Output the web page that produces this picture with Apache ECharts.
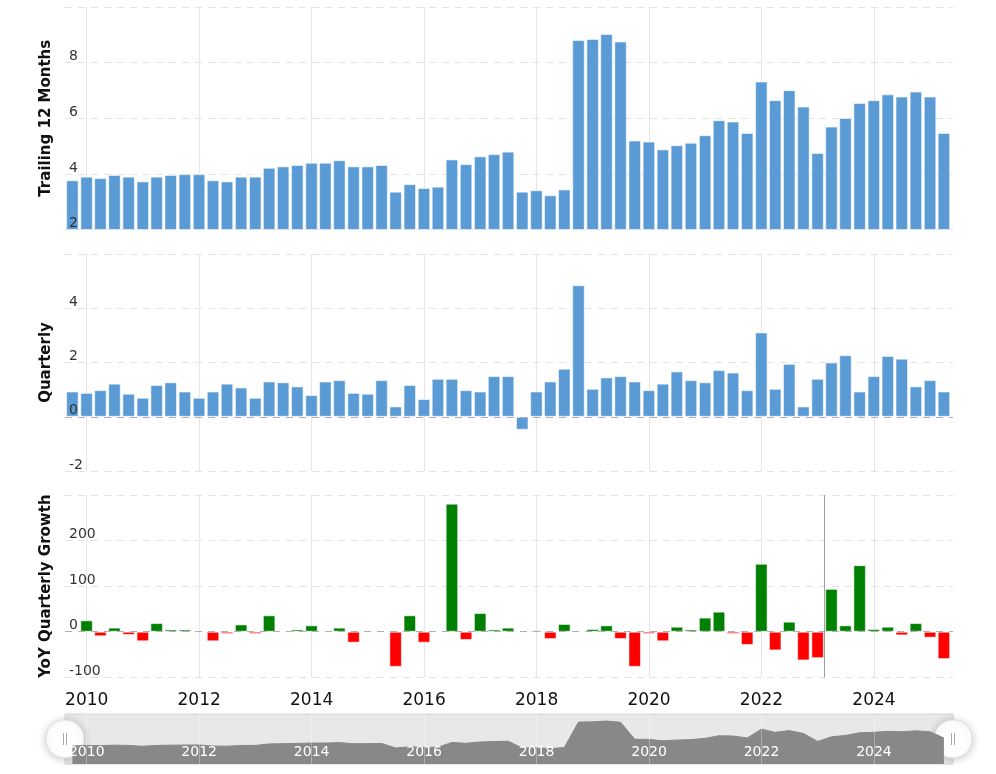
<!DOCTYPE html>
<html><head><meta charset="utf-8">
<script src="https://cdn.jsdelivr.net/npm/echarts@6/dist/echarts.min.js"></script>
<style>
html,body{margin:0;padding:0;background:#fff;}
#chart{position:absolute;left:0;top:0;width:996px;height:774px;}
#edge{position:absolute;left:1px;top:0;width:1px;height:774px;background:#e3e3e3;}
</style></head><body>
<div id="edge"></div>
<div id="chart"></div>
<script>
// ---- data ----
const quarters = [
 '2009-09-30','2009-12-31',
 '2010-03-31','2010-06-30','2010-09-30','2010-12-31',
 '2011-03-31','2011-06-30','2011-09-30','2011-12-31',
 '2012-03-31','2012-06-30','2012-09-30','2012-12-31',
 '2013-03-31','2013-06-30','2013-09-30','2013-12-31',
 '2014-03-31','2014-06-30','2014-09-30','2014-12-31',
 '2015-03-31','2015-06-30','2015-09-30','2015-12-31',
 '2016-03-31','2016-06-30','2016-09-30','2016-12-31',
 '2017-03-31','2017-06-30','2017-09-30','2017-12-31',
 '2018-03-31','2018-06-30','2018-09-30','2018-12-31',
 '2019-03-31','2019-06-30','2019-09-30','2019-12-31',
 '2020-03-31','2020-06-30','2020-09-30','2020-12-31',
 '2021-03-31','2021-06-30','2021-09-30','2021-12-31',
 '2022-03-31','2022-06-30','2022-09-30','2022-12-31',
 '2023-03-31','2023-06-30','2023-09-30','2023-12-31',
 '2024-03-31','2024-06-30','2024-09-30','2024-12-31',
 '2025-03-31'
];
const ttmValues = [
 3.77,3.90,
 3.85,3.96,3.90,3.73,
 3.90,3.96,3.99,3.99,
 3.77,3.73,3.90,3.90,
 4.22,4.27,4.32,4.40,
 4.40,4.49,4.27,4.27,
 4.32,3.36,3.63,3.49,
 3.54,4.52,4.35,4.63,
 4.71,4.80,3.36,3.41,
 3.23,3.44,8.81,8.85,
 9.03,8.76,5.20,5.16,
 4.88,5.03,5.12,5.39,
 5.93,5.88,5.47,7.32,
 6.65,7.01,6.42,4.75,
 5.70,6.01,6.55,6.65,
 6.86,6.78,6.96,6.78,
 5.47
];
const quarterlyValues = [
 0.93,0.88,
 0.98,1.22,0.85,0.70,
 1.17,1.27,0.93,0.70,
 0.93,1.22,1.08,0.70,
 1.30,1.27,1.12,0.80,
 1.30,1.35,0.88,0.85,
 1.35,0.38,1.17,0.65,
 1.40,1.40,0.98,0.93,
 1.50,1.50,-0.48,0.93,
 1.30,1.77,4.85,1.03,
 1.45,1.50,1.30,0.98,
 1.22,1.67,1.35,1.27,
 1.72,1.63,0.98,3.11,
 1.03,1.95,0.38,1.40,
 2.00,2.27,0.93,1.50,
 2.24,2.14,1.12,1.35,
 0.93
];
const yoyGrowthValues = [
 null,25,
 -10,9,-7,-21,
 19,5,5,1,
 -21,-5,16,-5,
 36,2,5,14,
 1,9,-24,2,
 2,-77,36,-24,
 2,281,-18,41,
 5,9,null,3,
 -16,17,null,6,
 14,-16,-77,-5,
 -21,11,5,31,
 44,-5,-29,149,
 -41,22,-63,-58,
 94,14,146,6,
 11,-8,19,-13,
 -60
];
const yearTicks = [2010, 2012, 2014, 2016, 2018, 2020, 2022, 2024];
const xMinDate = '2009-08-13';
const xMaxDate = '2025-05-29';
const hoverDate = '2023-02-09';

// ---- helpers: date string -> decimal year (position on the year axis) ----
function decYear(s) {
  const [y, m, d] = s.split('-').map(Number);
  const t0 = Date.UTC(y, 0, 1), t1 = Date.UTC(y + 1, 0, 1);
  return y + (Date.UTC(y, m - 1, d) - t0) / (t1 - t0);
}

// ---- layout / style ----
const W = 996;
const L = 65, R = 43;
const FONT = 'DejaVu Sans';
const GRID_LINE = '#e3e3e3';
const NAV_TOP = 714, NAV_H = 50;

const pairs = vals => quarters.map((d, i) => [decYear(d), vals[i]]);

function xAx(grid, extra) {
  return Object.assign({
    type: 'value', gridIndex: grid, min: decYear(xMinDate), max: decYear(xMaxDate),
    axisLine: {show: false},
    axisTick: {show: false, customValues: yearTicks},
    axisLabel: {show: false, customValues: yearTicks},
    splitLine: {show: true, lineStyle: {color: '#e6e6e6', width: 1, type: 'solid'}}
  }, extra || {});
}
function yGrid(grid, min, max, interval, name) {
  return {
    type: 'value', gridIndex: grid, min: min, max: max, interval: interval,
    name: name, nameLocation: 'middle', nameGap: 11,
    nameTextStyle: {fontFamily: FONT, fontSize: 15, fontWeight: 'bold', color: '#111'},
    axisLine: {show: false}, axisTick: {show: false},
    axisLabel: {show: false},
    splitLine: {show: true, lineStyle: {color: GRID_LINE, width: 1, type: [7, 6]}}
  };
}
function yLabels(grid, min, max, interval) {
  return {
    type: 'value', gridIndex: grid, min: min, max: max, interval: interval, z: 10,
    position: 'left', offset: 0,
    axisLine: {show: false}, axisTick: {show: false}, splitLine: {show: false},
    axisLabel: {inside: true, margin: 4, verticalAlign: 'bottom', lineHeight: 12,
      showMaxLabel: false, color: '#333', fontSize: 14, fontFamily: FONT}
  };
}

const barBorder = {borderColor: 'rgba(255,255,255,0.55)', borderWidth: 1};
const zeroLine = {yAxis: 0, lineStyle: {color: '#b0b0b0', type: [7, 6], width: 1}};

const handles = [L, W - R].map(cx => ({
  type: 'group', x: cx, y: NAV_TOP + NAV_H / 2, z: 100,
  children: [
    {type: 'circle', shape: {r: 19},
     style: {fill: '#fff', stroke: '#e2e2e2', lineWidth: 1,
             shadowBlur: 8, shadowColor: 'rgba(0,0,0,0.22)', shadowOffsetY: 1}},
    {type: 'line', shape: {x1: -1.5, y1: -6, x2: -1.5, y2: 6}, style: {stroke: '#aaa', lineWidth: 1}},
    {type: 'line', shape: {x1: 1.5, y1: -6, x2: 1.5, y2: 6}, style: {stroke: '#aaa', lineWidth: 1}}
  ]
}));

const option = {
  animation: false,
  backgroundColor: '#fff',
  textStyle: {fontFamily: FONT},
  grid: [
    {left: L, right: R, top: 7, height: 222.5},
    {left: L, right: R, top: 254, height: 217},
    {left: L, right: R, top: 495, height: 182.3},
    {left: L, right: R, top: NAV_TOP, height: NAV_H, show: true,
     backgroundColor: '#e8e8e8', borderColor: '#d6d6d6', borderWidth: 1}
  ],
  xAxis: [
    xAx(0),
    xAx(1),
    xAx(2, {axisLabel: {show: true, customValues: yearTicks, margin: 15,
      color: '#111', fontSize: 17, fontFamily: FONT,
      formatter: v => String(Math.round(v))}}),
    xAx(3, {z: 10,
      splitLine: {show: true, lineStyle: {color: 'rgba(255,255,255,0.3)', width: 1}},
      axisLabel: {show: true, inside: true, customValues: yearTicks, margin: 5,
        color: '#fff', fontSize: 14, fontFamily: FONT,
        formatter: v => String(Math.round(v))}})
  ],
  yAxis: [
    yGrid(0, 2, 10, 2, 'Trailing 12 Months'),
    yLabels(0, 2, 10, 2),
    yGrid(1, -2, 6, 2, 'Quarterly'),
    yLabels(1, -2, 6, 2),
    yGrid(2, -100, 300, 100, 'YoY Quarterly Growth'),
    yLabels(2, -100, 300, 100),
    {type: 'value', gridIndex: 3, min: 0, max: 10.5, show: false}
  ],
  series: [
    {type: 'bar', xAxisIndex: 0, yAxisIndex: 0, barWidth: 12.5,
     itemStyle: Object.assign({color: '#5b9bd5'}, barBorder),
     data: pairs(ttmValues)},
    {type: 'bar', xAxisIndex: 1, yAxisIndex: 2, barWidth: 12.5,
     itemStyle: Object.assign({color: '#5b9bd5'}, barBorder),
     markLine: {silent: true, symbol: ['none', 'none'], label: {show: false}, data: [zeroLine]},
     data: pairs(quarterlyValues)},
    {type: 'bar', xAxisIndex: 2, yAxisIndex: 4, barWidth: 12.5,
     itemStyle: Object.assign({
       color: p => (p.value[1] >= 0 ? '#008000' : '#ff0000')}, barBorder),
     markLine: {silent: true, symbol: ['none', 'none'], label: {show: false},
       data: [zeroLine, {xAxis: decYear(hoverDate), lineStyle: {color: '#a0a0a0', type: 'solid', width: 1}}]},
     data: pairs(yoyGrowthValues)},
    {type: 'line', xAxisIndex: 3, yAxisIndex: 6, showSymbol: false, silent: true,
     lineStyle: {color: '#888', width: 1},
     areaStyle: {color: '#888', opacity: 1},
     data: pairs(ttmValues)}
  ],
  graphic: handles
};

const chart = echarts.init(document.getElementById('chart'), null, {renderer: 'canvas'});
chart.setOption(option);
</script>
</body></html>
